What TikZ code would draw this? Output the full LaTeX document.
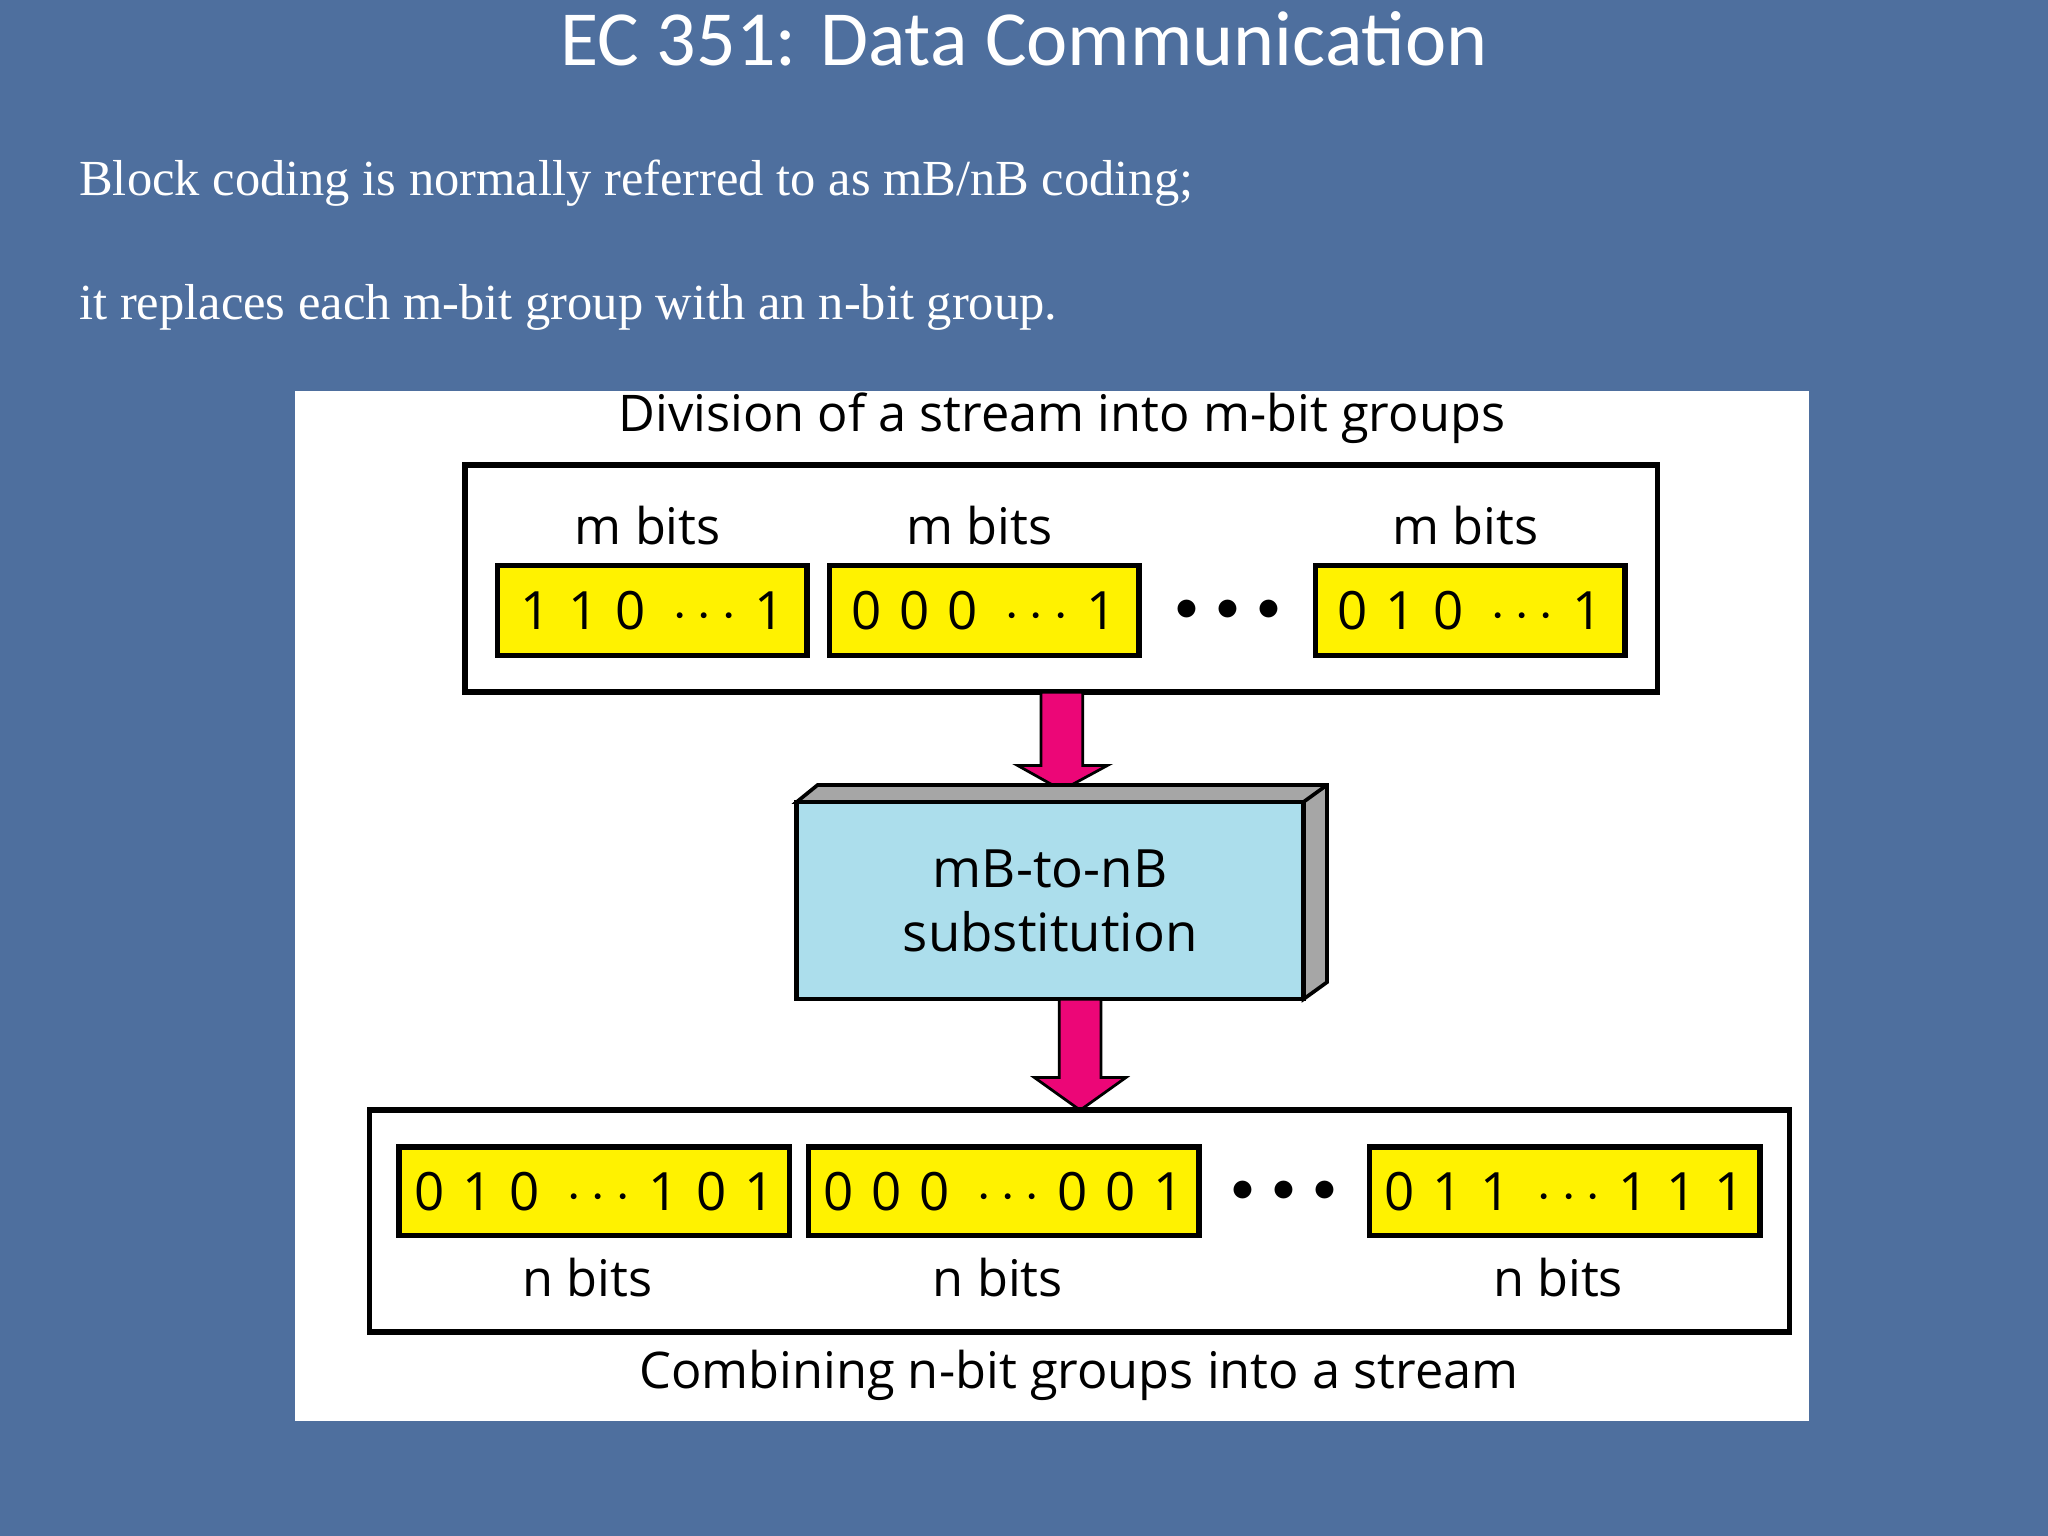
\documentclass[tikz,border=0pt]{standalone}
\usepackage{fontspec}
\setmainfont{Liberation Serif}
\newfontfamily\titlefont{Carlito}
\newfontfamily\dfont{Open Sans}
\begin{document}
\begin{tikzpicture}[x=0.01cm,y=-0.01cm,
  ybox/.style={draw=black,line width=1.2pt,fill=yellow},
  frame/.style={draw=black,line width=1.2pt},
  lab/.style={font=\dfont\fontsize{11pt}{13pt}\selectfont},
  bits/.style={font=\dfont\fontsize{11.5pt}{13pt}\selectfont},
  parr/.style={fill=magenta!80!red,draw=black,line width=0.6pt}]
\fill[fill={rgb,255:red,78;green,111;blue,158}] (0,0) rectangle (1568,1176);
\useasboundingbox (0,0) rectangle (1568,1176);
\node[text=white,font=\titlefont\fontsize{17pt}{19pt}\selectfont] (title) at (784,30) {EC 351: Data Communication};
\node[text=white,anchor=west,inner sep=0pt,font=\fontsize{11pt}{13pt}\selectfont] (l1) at (60,140) {Block coding is normally referred to as mB/nB coding;};
\node[text=white,anchor=west,inner sep=0pt,font=\fontsize{11pt}{13pt}\selectfont] (l2) at (60,235) {it replaces each m-bit group with an n-bit group.};
\fill[white] (226,299) rectangle (1385,1088);
\node[lab] (cap1) at (813,320) {Division of a stream into m-bit groups};
\draw[frame] (356,356) rectangle (1269,530);
\node[ybox,minimum width=237*0.01cm,minimum height=69*0.01cm,bits] (a1) at (499.5,467.5) {1\,\,1\,\,0\,\,\,$\cdots$\,\,1};
\node[ybox,minimum width=237*0.01cm,minimum height=69*0.01cm,bits] (a2) at (753.5,467.5) {0\,\,0\,\,0\,\,\,$\cdots$\,\,1};
\node[ybox,minimum width=237*0.01cm,minimum height=69*0.01cm,bits] (a3) at (1125.5,467.5) {0\,\,1\,\,0\,\,\,$\cdots$\,\,1};
\node[lab] (m1) at (496,402) {m bits};
\node[lab] (m2) at (750,402) {m bits};
\node[lab] (m3) at (1122,402) {m bits};
\node[font=\bfseries\fontsize{10pt}{10pt}\selectfont] (d1) at (940,467) {$\bullet\,\bullet\,\bullet$};
\draw[parr] (797,530) -- (829,530) -- (829,586) -- (848,586) -- (813,605) -- (779,586) -- (797,586) -- cycle;
\fill[gray!70,draw=black,line width=0.8pt] (610,614) -- (626,601) -- (1016,601) -- (1016,752) -- (998,765) -- (998,614) -- cycle;
\draw[black,line width=0.8pt] (998,614) -- (1016,601);
\node[draw=black,line width=1pt,fill={rgb,255:red,172;green,222;blue,236},minimum width=388*0.01cm,minimum height=151*0.01cm,align=center,font=\dfont\fontsize{11.5pt}{14pt}\selectfont] (sub) at (804,689.5) {mB-to-nB\\substitution};
\draw[parr] (811,765) -- (843,765) -- (843,825) -- (862,825) -- (827,850) -- (792,825) -- (811,825) -- cycle;
\draw[frame] (283,850) rectangle (1370,1020);
\node[ybox,minimum width=296*0.01cm,minimum height=68*0.01cm,bits] (b1) at (455,912) {0\,\,1\,\,0\,\,\,$\cdots$\,\,1\,\,0\,\,1};
\node[ybox,minimum width=295*0.01cm,minimum height=68*0.01cm,bits] (b2) at (768.5,912) {0\,\,0\,\,0\,\,\,$\cdots$\,\,0\,\,0\,\,1};
\node[ybox,minimum width=296*0.01cm,minimum height=68*0.01cm,bits] (b3) at (1198,912) {0\,\,1\,\,1\,\,\,$\cdots$\,\,1\,\,1\,\,1};
\node[lab] (n1) at (450,978) {n bits};
\node[lab] (n2) at (764,978) {n bits};
\node[lab] (n3) at (1193,978) {n bits};
\node[font=\bfseries\fontsize{10pt}{10pt}\selectfont] (d2) at (983,912) {$\bullet\,\bullet\,\bullet$};
\node[lab] (cap2) at (826,1053) {Combining n-bit groups into a stream};
\end{tikzpicture}
\end{document}
